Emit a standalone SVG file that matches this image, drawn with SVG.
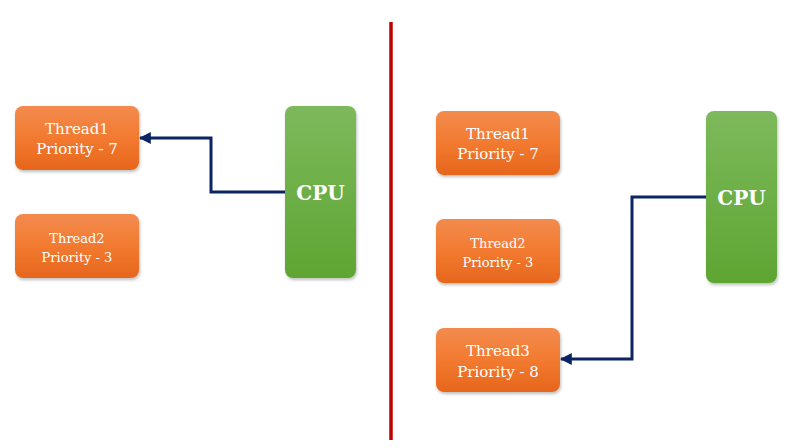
<svg xmlns="http://www.w3.org/2000/svg" width="792" height="448" viewBox="0 0 792 448">
<defs>
<linearGradient id="og" x1="0" y1="0" x2="0" y2="1">
<stop offset="0" stop-color="#f38b4e"/>
<stop offset="0.5" stop-color="#f27a30"/>
<stop offset="1" stop-color="#e6661c"/>
</linearGradient>
<linearGradient id="gg" x1="0" y1="0" x2="0" y2="1">
<stop offset="0" stop-color="#7db95c"/>
<stop offset="1" stop-color="#5ea532"/>
</linearGradient>
<filter id="sh" x="-10%" y="-10%" width="130%" height="130%">
<feDropShadow dx="1" dy="2" stdDeviation="1.5" flood-color="#000" flood-opacity="0.25"/>
</filter>
<marker id="ah" viewBox="0 0 10 10" refX="9" refY="5" markerWidth="4" markerHeight="4" orient="auto" markerUnits="strokeWidth">
<path d="M0,0 L10,5 L0,10 z" fill="#0b2463"/>
</marker>
</defs>
<style>
.th{fill:url(#og);filter:url(#sh)}
.cpu{fill:url(#gg);filter:url(#sh)}
text{font-family:"DejaVu Serif","Liberation Serif",serif;fill:#fff;text-anchor:middle}
.t1{font-size:15px}
.t2{font-size:13px}
.c{font-size:20px;font-weight:bold}
.con{fill:none;stroke:#0b2463;stroke-width:3}
</style>
<line x1="391" y1="22" x2="391" y2="440" stroke="#c00000" stroke-width="3.5"/>
<g id="l-thread1"><rect class="th" x="15" y="106" width="124" height="64" rx="8"/><text class="t1" x="77" y="134">Thread1</text><text class="t1" x="77" y="154">Priority - 7</text></g>
<g id="l-thread2"><rect class="th" x="15" y="214" width="124" height="64" rx="8"/><text class="t2" x="77" y="243">Thread2</text><text class="t2" x="77" y="262">Priority - 3</text></g>
<g id="l-cpu"><rect class="cpu" x="285" y="106" width="71" height="172" rx="8"/><text class="c" x="320.5" y="200">CPU</text></g>
<g id="r-thread1"><rect class="th" x="436" y="111" width="124" height="64" rx="8"/><text class="t1" x="498" y="139">Thread1</text><text class="t1" x="498" y="159">Priority - 7</text></g>
<g id="r-thread2"><rect class="th" x="436" y="219" width="124" height="64" rx="8"/><text class="t2" x="498" y="248">Thread2</text><text class="t2" x="498" y="267">Priority - 3</text></g>
<g id="r-thread3"><rect class="th" x="436" y="328" width="124" height="64" rx="8"/><text class="t1" x="498" y="356">Thread3</text><text class="t1" x="498" y="377">Priority - 8</text></g>
<g id="r-cpu"><rect class="cpu" x="706" y="111" width="71" height="172" rx="8"/><text class="c" x="741.5" y="205">CPU</text></g>
<g id="connectors">
<path class="con" d="M285,192 H211 V138 H140" marker-end="url(#ah)"/>
<path class="con" d="M706,197 H632 V359 H561" marker-end="url(#ah)"/>
</g>
</svg>
